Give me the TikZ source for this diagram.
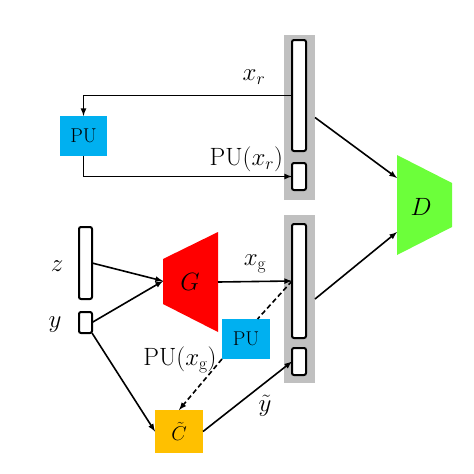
\RequirePackage{fix-cm}
\documentclass[tikz,border=0pt]{standalone}
\usepackage{amsmath}
\usepackage{fontspec}
\usetikzlibrary{positioning}
\definecolor{publue}{HTML}{00B0F0}
\definecolor{corange}{HTML}{FFC000}
\definecolor{dgreen}{HTML}{6CFF3A}
\definecolor{panelgray}{HTML}{C0C0C0}
\begin{document}
\begin{tikzpicture}[x=1pt, y=-1pt, every node/.style={inner sep=0pt, outer sep=0pt}]

  \tikzstyle{module}=[minimum width=47, minimum height=40, font=\fontsize{20}{24}\selectfont]
  \tikzstyle{pu}=[module, fill=publue]
  \tikzstyle{cls}=[module, fill=corange, minimum width=48, minimum height=43]
  \tikzstyle{panel}=[fill=panelgray, minimum width=31]
  \tikzstyle{bar}=[draw, line width=2, fill=white, rounded corners=2, minimum width=14]
  \tikzstyle{lbl}=[font=\fontsize{25}{29}\selectfont]
  \tikzstyle{conn}=[line width=1.6, -latex]
  \tikzstyle{puline}=[line width=1.6, dash pattern=on 5pt off 3pt]

  \useasboundingbox (0,0) rectangle (474,474);

  % real branch
  \node [panel, minimum height=165] (panel-R) at (299.5,117.5) {};
  \node [bar, minimum height=111] (bar-R-0) at (299,95.5) {};
  \node [bar, minimum height=27] (bar-R-1) at (299,176.5) {};
  \node [pu] (PU-R) at (83.5,136) {PU};

  % generated branch
  \node [panel, minimum height=168] (panel-G) at (299.5,299) {};
  \node [bar, minimum height=114] (bar-G-0) at (299,281) {};
  \node [bar, minimum height=27] (bar-G-1) at (299,361.5) {};
  \node [bar, minimum width=13, minimum height=72] (z-bar) at (85.5,263) {};
  \node [bar, minimum width=13, minimum height=21] (y-bar) at (85.5,322.5) {};
  \node [pu, minimum width=48] (PU-G) at (246,339) {PU};
  \node [cls] (C) at (179,431.5) {\(\tilde{C}\)};

  % generator and discriminator
  \fill [red] (163,259) -- (218,232) -- (218,332) -- (163,304) -- cycle;
  \node [lbl] (G) at (190,282) {\(G\)};
  \coordinate (G-in) at (163,281);
  \coordinate (G-out) at (218,282);
  \fill [dgreen] (397,155) -- (452,183) -- (452,227) -- (397,255) -- cycle;
  \node [lbl] (D) at (421,207) {\(D\)};
  \coordinate (D-in-1) at (397,178);
  \coordinate (D-in-2) at (397,232);

  \node [lbl] (z-lbl) at (57,266) {\(z\)};
  \node [lbl] (y-lbl) at (55,325) {\(y\)};

  \draw [conn] (bar-R-0.west) -| (PU-R);
  \node [lbl] at (254,77) {\(x_r\)};
  \draw [conn] (PU-R) |- (bar-R-1);
  \node [lbl, anchor=east] at (283,159) {\(\mathrm{PU}(x_r)\)};
  \draw [conn] (panel-R.east) -- (D-in-1);

  \draw [conn] (z-bar.east) -- (G-in);
  \draw [conn] (y-bar.east) -- (G-in);
  \draw [conn] (y-bar.south east) -- (C.west);
  \draw [conn] (G-out) -- (bar-G-0.west);
  \node [lbl] at (255,264) {\(x_{\mathrm{g}}\)};
  \draw [puline] (bar-G-0.west) -- (PU-G.60);
  \draw [puline, -latex] (PU-G.south west) -- (C.north);
  \node [lbl] at (180,360) {\(\mathrm{PU}(x_{\mathrm{g}})\)};
  \draw [conn] (C.east) -- (bar-G-1.west);
  \node [lbl] at (265,406) {\(\tilde{y}\)};
  \draw [conn] (panel-G.east) -- (D-in-2);

\end{tikzpicture}
\end{document}
